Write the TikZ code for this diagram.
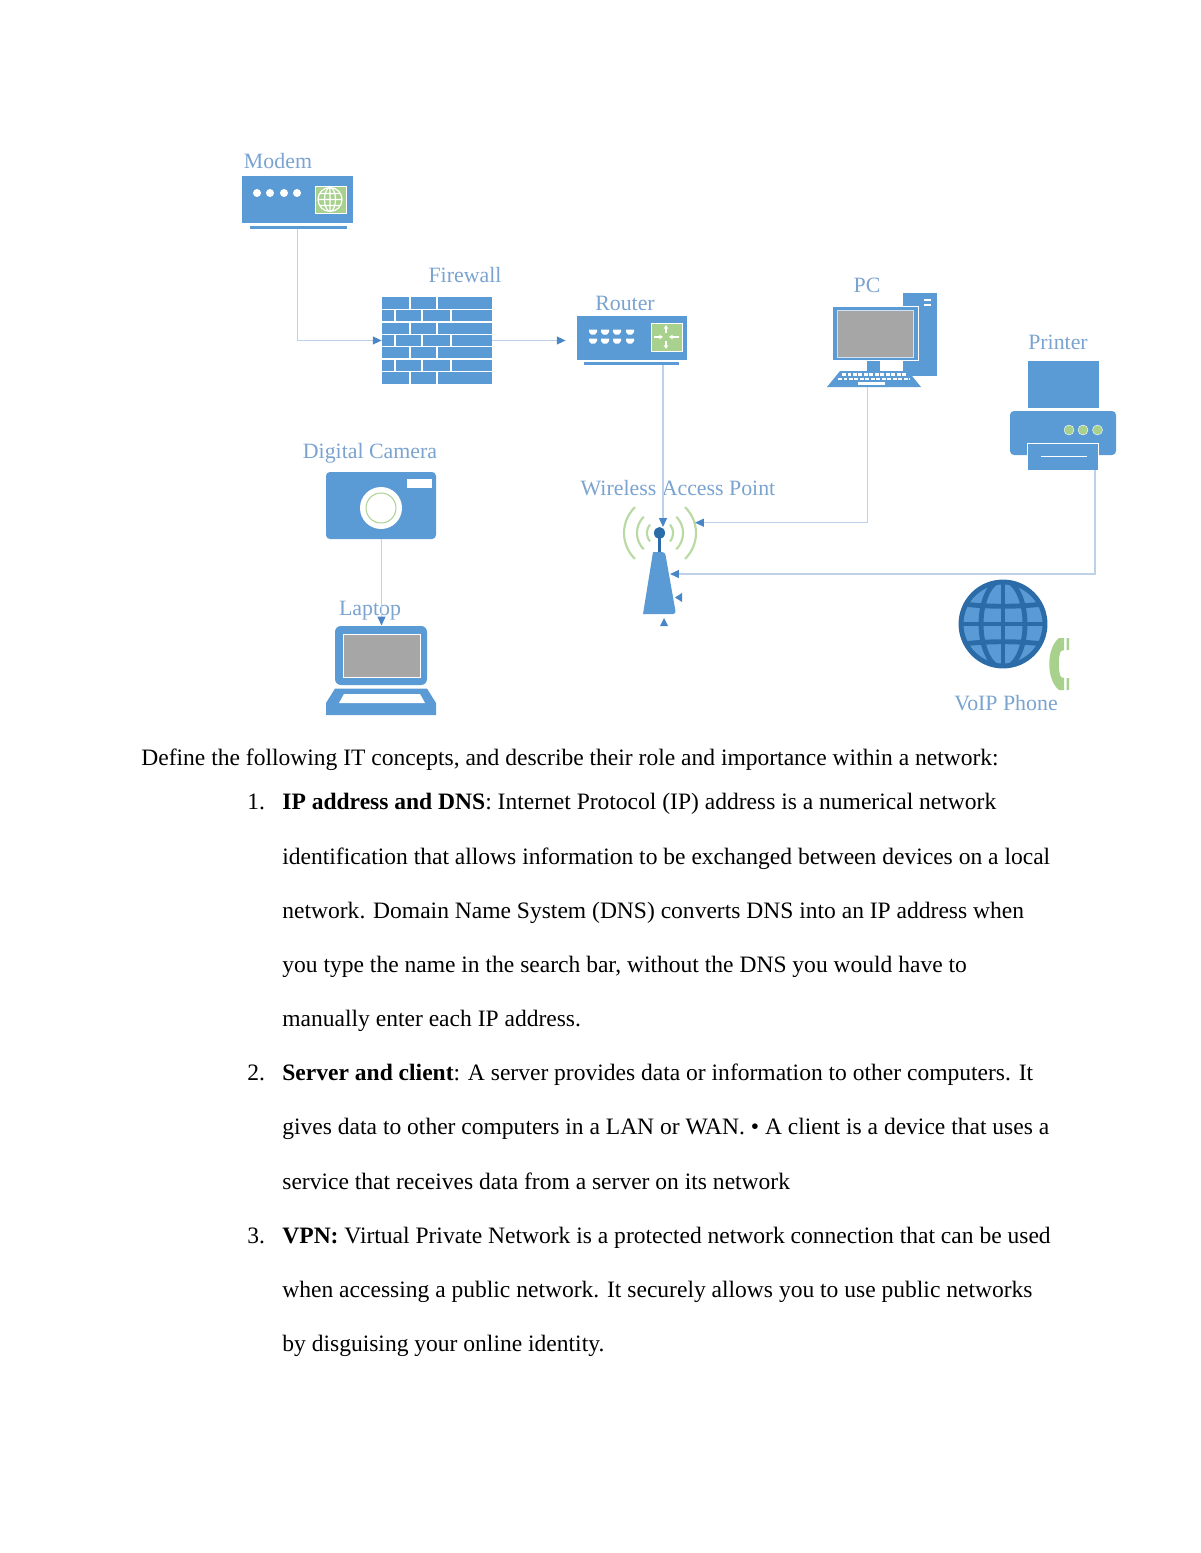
\documentclass[tikz,border=0pt]{standalone}
\usepackage{fontspec}
\setmainfont{Liberation Serif}
\usetikzlibrary{arrows.meta,calc}
\definecolor{iconblue}{HTML}{5B9BD5}
\definecolor{darkblue}{HTML}{2A6BA8}
\definecolor{tipblue}{HTML}{4A86C5}
\definecolor{wireblue}{HTML}{BDD2EA}
\definecolor{labelblue}{HTML}{7AA3D0}
\definecolor{softgreen}{HTML}{A9D18E}
\definecolor{screengray}{HTML}{A6A6A6}
\def\pxu{0.51pt}
\tikzset{
  icon/.style 2 args={fill=iconblue, inner sep=0pt, minimum width=#1*\pxu, minimum height=#2*\pxu},
  devlabel/.style={text=labelblue, font=\fontsize{11.15}{14}\selectfont, inner sep=0pt},
  wire/.style={wireblue, line width=0.7pt, -{Triangle[length=4.5pt,width=4pt,color=tipblue]}},
  bodyline/.style={anchor=base west, inner sep=0pt, font=\fontsize{12}{14}\selectfont},
  greenbox/.style={fill=softgreen, draw=white, line width=0.3pt},
  glyph/.style={white, line width=0.6pt},
}
\begin{document}
\begin{tikzpicture}[x=\pxu, y=-\pxu, >=Stealth]
  \useasboundingbox (0,0) rectangle (1200,1553);

  \node[icon={111}{47}] (modem) at (297.5,199.5) {};
  \fill[iconblue] (250,226) rectangle (347,229);
  \foreach \x in {257,270,284,297} \fill[white] (\x,193) circle (4);
  \draw[greenbox] (315,186) rectangle (346,213);
  \draw[glyph] (330,199.5) circle (12) (330,199.5) ellipse (5.5 and 12) (330,187.5) -- (330,211.5) (318,199.5) -- (342,199.5) (319.5,193.5) -- (340.5,193.5) (319.5,205.5) -- (340.5,205.5);
  \node[devlabel] (modemlabel) at (278,161) {Modem};

  \node[icon={110}{87}] (firewall) at (437,340.5) {};
  \foreach \r in {1,...,6} \draw[white, line width=0.7pt] (382,297+12.43*\r) -- (492,297+12.43*\r);
  \foreach \r in {0,2,4,6} \foreach \x in {410,437} \draw[white, line width=0.7pt] (\x,297+12.43*\r) -- (\x,297+12.43*\r+12.43);
  \foreach \r in {1,3,5} \foreach \x in {395,422,451} \draw[white, line width=0.7pt] (\x,297+12.43*\r) -- (\x,297+12.43*\r+12.43);
  \node[devlabel] (firewalllabel) at (465,275) {Firewall};

  \node[icon={110}{44}] (router) at (632,338) {};
  \fill[iconblue] (584,362) rectangle (679,365);
  \foreach \x in {593,605,617,630} \foreach \y in {332,341}
    \fill[white] (\x-4,\y-2.5) -- (\x+4,\y-2.5) -- (\x+4,\y) -- (\x+2,\y+2.5) -- (\x-2,\y+2.5) -- (\x-4,\y) -- cycle;
  \draw[greenbox] (651,323) rectangle (682,351);
  \draw[glyph, ->, >={Stealth[length=2pt,width=2.4pt]}] (654,337) -- (663,337);
  \draw[glyph, ->, >={Stealth[length=2pt,width=2.4pt]}] (679,337) -- (669,337);
  \draw[glyph, ->, >={Stealth[length=2pt,width=2.4pt]}] (666,333) -- (666,325);
  \draw[glyph, ->, >={Stealth[length=2pt,width=2.4pt]}] (666,341) -- (666,349);
  \node[devlabel] (routerlabel) at (625,303) {Router};

  \node[icon={34}{83}] (tower) at (920,334.5) {};
  \foreach \y in {300,305} \fill[white] (923.5,\y-1.2) rectangle (931,\y+1.2);
  \node[icon={86}{54}, draw=white, line width=0.5pt] (pc) at (875.5,333) {};
  \fill[screengray, draw=white!70!iconblue, line width=0.5pt] (837,310) rectangle (913,357);
  \fill[iconblue] (867,361) rectangle (880,371);
  \fill[iconblue] (840,371) -- (908,371) -- (921,387) -- (827,387) -- cycle;
  \foreach \y/\a/\b in {374.5/842/906,379/838/910}
    \draw[white, line width=1.3pt, dash pattern=on 2pt off 0.8pt] (\a,\y) -- (\b,\y);
  \fill[white] (858,382) rectangle (885,385);
  \coordinate (pcout) at (867.5,387);
  \node[devlabel] (pclabel) at (867,285) {PC};

  \node[icon={71}{47}] (paper) at (1063,384.5) {};
  \fill[iconblue, rounded corners=2pt] (1010,455) -- (1010,411) -- (1116,411) -- (1116,455) -- cycle;
  \foreach \x in {1069,1083,1097.5} \fill[softgreen, draw=white, line width=0.2pt] (\x,430) circle (5);
  \node[icon={71}{27}, draw=white, line width=0.5pt] (printer) at (1063,456.5) {};
  \draw[white, line width=0.5pt] (1041,456) -- (1087,456);
  \coordinate (printerout) at (1095,470);
  \node[devlabel] (printerlabel) at (1058,342) {Printer};

  \fill[iconblue, rounded corners=1.5pt] (653,552) -- (665,552) -- (676,614) [sharp corners] -- (643,614) -- cycle;
  \draw[darkblue, line width=1.6pt] (659.5,533) -- (659.5,552);
  \fill[darkblue] (659.5,533) ellipse (5.5 and 6);
  \foreach \r/\a in {13/40,23/45,36/46} {
    \draw[softgreen!80, line width=1.1pt] plot[domain=-\a:\a, samples=15, smooth] ({660+\r*cos(\x)},{533+\r*sin(\x)});
    \draw[softgreen!80, line width=1.1pt] plot[domain=-\a:\a, samples=15, smooth] ({660-\r*cos(\x)},{533+\r*sin(\x)});
  }
  \coordinate (wapnorth) at (663,527);
  \coordinate (wapeast) at (695,522.7);
  \coordinate (waplower) at (670,574);
  \fill[tipblue] (675,597.5) -- (682,593) -- (682,602) -- cycle;
  \fill[tipblue] (664,618) -- (668,626) -- (660,626) -- cycle;
  \node[devlabel] (waplabel) at (678,488) {Wireless Access Point};

  \node[circle, fill=iconblue, draw=darkblue, line width=2.5pt, minimum size=84*\pxu, inner sep=0pt] (globe) at (1003,624) {};
  \begin{scope}[darkblue, line width=2.5pt]
    \clip (1003,624) circle (43);
    \draw (1003,581) -- (1003,667) (960,624) -- (1046,624);
    \draw (1003,624) ellipse (22 and 44);
    \draw (964,604) .. controls (985,607) and (1021,607) .. (1042,604);
    \draw (964,644) .. controls (985,641) and (1021,641) .. (1042,644);
  \end{scope}
  \fill[softgreen] (1064,638) -- (1064,650) -- (1061,651) .. controls (1058,656) and (1058,672) .. (1061,677) -- (1064,678) -- (1064,690) -- (1059,690) .. controls (1046,680) and (1046,648) .. (1059,638) -- cycle;
  \fill[softgreen] (1066.5,638) rectangle (1069,650) (1066.5,678) rectangle (1069,690);
  \node[devlabel] (voiplabel) at (1006,703) {VoIP Phone};

  \node[icon={110}{67}, rounded corners=2pt] (camera) at (381,505.5) {};
  \fill[white] (406.5,478.5) rectangle (431.5,488);
  \fill[white] (381,508) circle (21);
  \draw[softgreen, line width=0.5pt] (381,508) circle (15);
  \node[devlabel] (cameralabel) at (370,453.5) {Digital Camera};

  \fill[iconblue, rounded corners=3pt] (335,685) -- (335,626) -- (427,626) -- (427,685) -- cycle;
  \node[icon={77}{43}, fill=screengray, draw=white, line width=0.4pt] (laptop) at (381.5,655.5) {};
  \fill[iconblue] (335,688.5) -- (427,688.5) -- (436,703) -- (436,715) -- (326,715) -- (326,703) -- cycle;
  \fill[white] (344,694) -- (420,694) -- (425,703) -- (339,703) -- cycle;
  \coordinate (laptopin) at (381.5,625.5);
  \node[devlabel] (laptoplabel) at (370,611) {Laptop};

  \draw[wire] (modem.south |- 0,229) |- (firewall.west);
  \draw[wire, shorten >=11*\pxu] (firewall.east) -- (firewall.east -| router.west);
  \draw[wire] (router.south -| wapnorth) ++(0,5) -- (wapnorth);
  \draw[wire] (pcout) |- (wapeast);
  \draw[wire] (printerout) |- (waplower);
  \draw[wire] (camera.south -| laptopin) -- (laptopin);

  \node[bodyline] (intro) at (141,765) {Define the following IT concepts, and describe their role and importance within a network:};
  \node[bodyline] (numone) at (247,809) {1.};
  \node[bodyline] (lineone) at (282,809) {\textbf{IP address and DNS}: Internet Protocol (IP) address is a numerical network};
  \node[bodyline] (linetwo) at (282,864) {identification that allows information to be exchanged between devices on a local};
  \node[bodyline] (linethree) at (282,918) {network. Domain Name System (DNS) converts DNS into an IP address when};
  \node[bodyline] (linefour) at (282,972) {you type the name in the search bar, without the DNS you would have to};
  \node[bodyline] (linefive) at (282,1026) {manually enter each IP address.};
  \node[bodyline] (numtwo) at (247,1080) {2.};
  \node[bodyline] (linesix) at (282,1080) {\textbf{Server and client}: A server provides data or information to other computers. It};
  \node[bodyline] (lineseven) at (282,1134) {gives data to other computers in a LAN or WAN. • A client is a device that uses a};
  \node[bodyline] (lineeight) at (282,1189) {service that receives data from a server on its network};
  \node[bodyline] (numthree) at (247,1243) {3.};
  \node[bodyline] (linenine) at (282,1243) {\textbf{VPN:} Virtual Private Network is a protected network connection that can be used};
  \node[bodyline] (lineten) at (282,1297) {when accessing a public network. It securely allows you to use public networks};
  \node[bodyline] (lineeleven) at (282,1351) {by disguising your online identity.};
\end{tikzpicture}
\end{document}
